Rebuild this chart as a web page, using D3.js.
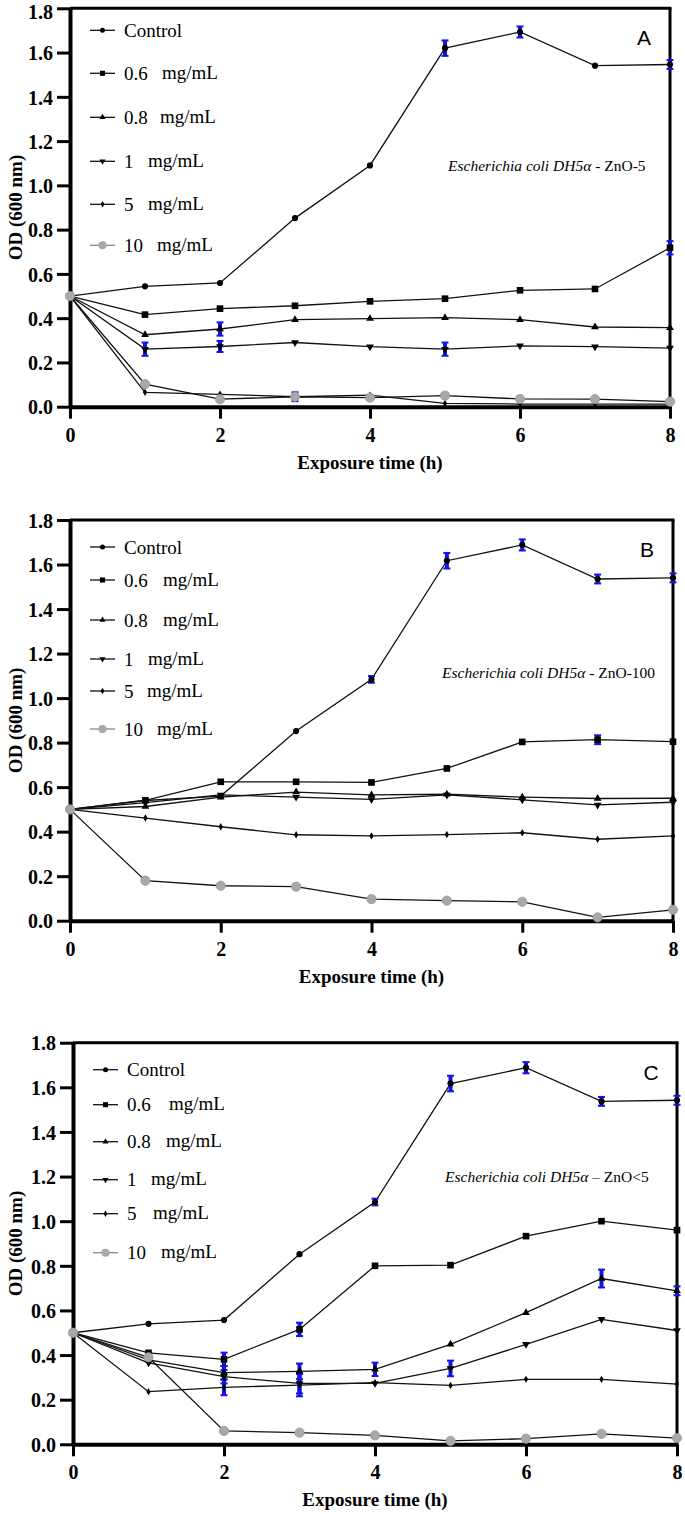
<!DOCTYPE html>
<html>
<head>
<meta charset="utf-8">
<script src="https://cdn.jsdelivr.net/npm/d3@7"></script>
<style>
  html, body { margin: 0; padding: 0; background: #fff; }
  svg { display: block; }
</style>
</head>
<body>
<div id="chart"></div>
<script>
// --- data ---
const hours = [0, 1, 2, 3, 4, 5, 6, 7, 8];
const xTicks = [0, 2, 4, 6, 8];
const yTicks = [0, 0.2, 0.4, 0.6, 0.8, 1.0, 1.2, 1.4, 1.6, 1.8];
const seriesLabels = ["Control", "0.6", "0.8", "1", "5", "10"];
const unitLabel = "mg/mL";

// panel A  (ZnO-5)
const aControl = [0.5, 0.544, 0.559, 0.852, 1.09, 1.62, 1.693, 1.541, 1.546];
const a06 = [0.5, 0.416, 0.443, 0.456, 0.476, 0.488, 0.526, 0.532, 0.718];
const a08 = [0.5, 0.325, 0.351, 0.393, 0.398, 0.402, 0.393, 0.36, 0.357];
const a1 = [0.5, 0.26, 0.272, 0.29, 0.271, 0.26, 0.275, 0.271, 0.265];
const a5 = [0.5, 0.065, 0.056, 0.045, 0.052, 0.015, 0.012, 0.012, 0.012];
const a10 = [0.5, 0.102, 0.034, 0.045, 0.041, 0.05, 0.035, 0.034, 0.023];
const aControlErr = [null, null, null, null, null, 0.035, 0.025, null, 0.02];
const a06Err = [null, null, null, null, null, null, null, null, 0.03];
const a08Err = [null, null, 0.03, null, null, null, null, null, null];
const a1Err = [null, 0.03, 0.025, null, null, 0.03, null, null, null];
const a5Err = [null, null, null, null, null, null, null, null, null];
const a10Err = [null, null, null, 0.02, null, null, null, null, null];

// panel B  (ZnO-100)
const bControl = [0.5, 0.54, 0.56, 0.852, 1.084, 1.617, 1.688, 1.535, 1.54];
const b06 = [0.5, 0.541, 0.624, 0.624, 0.621, 0.684, 0.803, 0.813, 0.804];
const b08 = [0.5, 0.513, 0.555, 0.578, 0.565, 0.568, 0.555, 0.549, 0.55];
const b1 = [0.5, 0.53, 0.565, 0.555, 0.545, 0.565, 0.543, 0.52, 0.532];
const b5 = [0.5, 0.461, 0.422, 0.386, 0.381, 0.387, 0.395, 0.366, 0.381];
const b10 = [0.5, 0.18, 0.157, 0.153, 0.097, 0.09, 0.085, 0.015, 0.049];
const bControlErr = [null, null, null, null, 0.015, 0.035, 0.025, 0.02, 0.02];
const b06Err = [null, null, null, null, null, null, null, 0.02, null];
const b08Err = [null, null, null, null, null, null, null, null, null];
const b1Err = [null, null, null, null, null, null, null, null, null];
const b5Err = [null, null, null, null, null, null, null, null, null];
const b10Err = [null, null, null, null, null, null, null, null, null];

// panel C  (ZnO<5)
const cControl = [0.5, 0.54, 0.557, 0.852, 1.086, 1.617, 1.688, 1.537, 1.542];
const c06 = [0.5, 0.41, 0.381, 0.515, 0.8, 0.803, 0.933, 1.0, 0.96];
const c08 = [0.5, 0.378, 0.321, 0.327, 0.336, 0.448, 0.59, 0.743, 0.688];
const c1 = [0.5, 0.365, 0.303, 0.273, 0.273, 0.34, 0.448, 0.56, 0.51];
const c5 = [0.5, 0.236, 0.255, 0.265, 0.276, 0.264, 0.291, 0.291, 0.27];
const c10 = [0.5, 0.39, 0.06, 0.052, 0.04, 0.015, 0.025, 0.047, 0.028];
const cControlErr = [null, null, null, null, 0.015, 0.035, 0.025, 0.02, 0.02];
const c06Err = [null, null, 0.03, 0.03, null, null, null, null, null];
const c08Err = [null, null, 0.03, 0.035, 0.03, null, null, 0.04, 0.02];
const c1Err = [null, null, 0.03, 0.045, null, 0.035, null, null, null];
const c5Err = [null, null, 0.035, 0.05, null, null, null, null, null];
const c10Err = [null, null, null, null, null, null, null, null, null];

// --- layout (pixels) ---
const W = 685, H = 1514;
const SERIF = "'Liberation Serif', 'Times New Roman', serif";
const ERR_BLUE = "#1414e6";

const panels = [
  { letter: "A", xl: 70, xr: 670, yt: 8.3, yb: 406.7,
    series: [aControl, a06, a08, a1, a5, a10], errs: [aControlErr, a06Err, a08Err, a1Err, a5Err, a10Err],
    note: ["Escherichia coli DH5α", " - ZnO-5"], noteX: 448, noteY: 171,
    legY: [22, 65, 109, 153, 196, 237], unitX: [null, 162, 160, 148, 148, 157] },
  { letter: "B", xl: 70, xr: 673, yt: 520, yb: 920.7,
    series: [bControl, b06, b08, b1, b5, b10], errs: [bControlErr, b06Err, b08Err, b1Err, b5Err, b10Err],
    note: ["Escherichia coli DH5α", " - ZnO-100"], noteX: 442, noteY: 678,
    legY: [27, 60, 100, 139, 171, 209], unitX: [null, 163, 163, 148, 147, 157] },
  { letter: "C", xl: 73, xr: 677, yt: 1042.7, yb: 1444.3,
    series: [cControl, c06, c08, c1, c5, c10], errs: [cControlErr, c06Err, c08Err, c1Err, c5Err, c10Err],
    note: ["Escherichia coli DH5α", " – ZnO<5"], noteX: 445, noteY: 1182,
    legY: [27, 62, 99, 137, 171, 210], unitX: [null, 166, 163, 148, 150, 158] }
];

// marker style per series: symbol, plot size, legend size, rotation, fill
const markers = [
  { sym: d3.symbolCircle,   size: 30, lsize: 20, rot: 0,   fill: "#000" },
  { sym: d3.symbolSquare,   size: 44, lsize: 26, rot: 0,   fill: "#000" },
  { sym: d3.symbolTriangle, size: 26, lsize: 16, rot: 0,   fill: "#000" },
  { sym: d3.symbolTriangle, size: 26, lsize: 16, rot: 180, fill: "#000" },
  { sym: d3.symbolDiamond,  size: 16, lsize: 12, rot: 0,   fill: "#000" },
  { sym: d3.symbolCircle,   size: 68, lsize: 52, rot: 0,   fill: "#a8a8a8" }
];

const svg = d3.select("#chart").append("svg")
  .attr("width", W).attr("height", H)
  .attr("viewBox", [0, 0, W, H])
  .style("background", "#fff");

panels.forEach(p => {
  const x = d3.scaleLinear().domain([0, 8]).range([p.xl, p.xr]);
  const y = d3.scaleLinear().domain([0, 1.8]).range([p.yb, p.yt]);
  const g = svg.append("g");

  // frame top + right
  g.append("line").attr("x1", p.xl).attr("x2", p.xr + 1.5).attr("y1", p.yt).attr("y2", p.yt)
    .attr("stroke", "#000").attr("stroke-width", 3);
  g.append("line").attr("x1", p.xr).attr("x2", p.xr).attr("y1", p.yt).attr("y2", p.yb)
    .attr("stroke", "#000").attr("stroke-width", 3);

  // axes
  const xAxis = g.append("g").attr("transform", `translate(0,${p.yb})`)
    .call(d3.axisBottom(x).tickValues(xTicks).tickSize(12).tickSizeOuter(0).tickPadding(9).tickFormat(d3.format("d")));
  const yAxis = g.append("g").attr("transform", `translate(${p.xl},0)`)
    .call(d3.axisLeft(y).tickValues(yTicks).tickSize(13).tickSizeOuter(0).tickPadding(4).tickFormat(d3.format(".1f")));
  [xAxis, yAxis].forEach(a => {
    a.select(".domain").attr("stroke", "#000").attr("stroke-width", 4);
    a.selectAll(".tick line").attr("stroke", "#000").attr("stroke-width", 3);
    a.selectAll(".tick text").attr("fill", "#000")
      .style("font-family", SERIF).style("font-size", "20px").style("font-weight", "bold");
  });
  yAxis.selectAll(".tick text").attr("dy", "0.36em");
  // the top label of the first panel sits at the page edge; nudge it in a little
  if (p.yt < 20) {
    yAxis.selectAll(".tick text").filter(d => d === 1.8).attr("dy", "0.5em");
  }

  // axis titles
  g.append("text")
    .attr("x", (p.xl + p.xr) / 2).attr("y", p.yb + 62)
    .attr("text-anchor", "middle")
    .style("font-family", SERIF).style("font-size", "19px").style("font-weight", "bold")
    .text("Exposure time (h)");
  g.append("text")
    .attr("transform", `translate(15,${(p.yt + p.yb) / 2}) rotate(-90)`)
    .attr("text-anchor", "middle").attr("dy", "0.35em")
    .style("font-family", SERIF).style("font-size", "19px").style("font-weight", "bold")
    .text("OD (600 nm)");

  // series lines
  const line = d3.line().x((d, i) => x(hours[i])).y(d => y(d));
  p.series.slice().reverse().forEach(s => {
    g.append("path").datum(s).attr("d", line)
      .attr("fill", "none").attr("stroke", "#111").attr("stroke-width", 1.3);
  });

  // error bars
  p.series.forEach((s, k) => {
    const errs = p.errs[k];
    s.forEach((v, i) => {
      const e = errs[i];
      if (e == null) return;
      const cx = x(hours[i]);
      g.append("line").attr("x1", cx).attr("x2", cx).attr("y1", y(v - e)).attr("y2", y(v + e))
        .attr("stroke", ERR_BLUE).attr("stroke-width", 4);
      [v - e, v + e].forEach(c => {
        g.append("line").attr("x1", cx - 3.5).attr("x2", cx + 3.5).attr("y1", y(c)).attr("y2", y(c))
          .attr("stroke", ERR_BLUE).attr("stroke-width", 2);
      });
    });
  });

  // markers
  p.series.forEach((s, k) => {
    const m = markers[k];
    const sym = d3.symbol().type(m.sym).size(m.size);
    g.selectAll(null).data(s).join("path")
      .attr("d", sym)
      .attr("transform", (d, i) => `translate(${x(hours[i])},${y(d)}) rotate(${m.rot})`)
      .attr("fill", m.fill)
      .attr("stroke", k === 5 ? "#999" : "none").attr("stroke-width", 0.8);
  });

  // legend
  seriesLabels.forEach((lab, k) => {
    const ly = p.yt + p.legY[k];
    const m = markers[k];
    const lx0 = p.xl + 20, lx1 = p.xl + 45, lxm = (lx0 + lx1) / 2;
    g.append("line").attr("x1", lx0).attr("x2", lx1).attr("y1", ly).attr("y2", ly)
      .attr("stroke", k === 5 ? "#888" : "#111").attr("stroke-width", 1.3);
    g.append("path").attr("d", d3.symbol().type(m.sym).size(m.lsize))
      .attr("transform", `translate(${lxm},${ly}) rotate(${m.rot})`)
      .attr("fill", m.fill);
    g.append("text").attr("x", p.xl + 54).attr("y", ly).attr("dy", "0.35em")
      .style("font-family", SERIF).style("font-size", "19px")
      .text(lab);
    if (p.unitX[k] != null) {
      g.append("text").attr("x", p.unitX[k] + (p.xl - 70)).attr("y", ly).attr("dy", "0.3em")
        .style("font-family", SERIF).style("font-size", "19px")
        .text(unitLabel);
    }
  });

  // annotation
  const note = g.append("text").attr("x", p.noteX).attr("y", p.noteY)
    .style("font-family", SERIF).style("font-size", "15.5px");
  note.append("tspan").style("font-style", "italic").text(p.note[0]);
  note.append("tspan").text(p.note[1]);

  // panel letter
  g.append("text").attr("x", p.xr - 26).attr("y", p.yt + 37)
    .attr("text-anchor", "middle")
    .style("font-family", "'Liberation Sans', Arial, sans-serif").style("font-size", "21px")
    .text(p.letter);
});
</script>
</body>
</html>
